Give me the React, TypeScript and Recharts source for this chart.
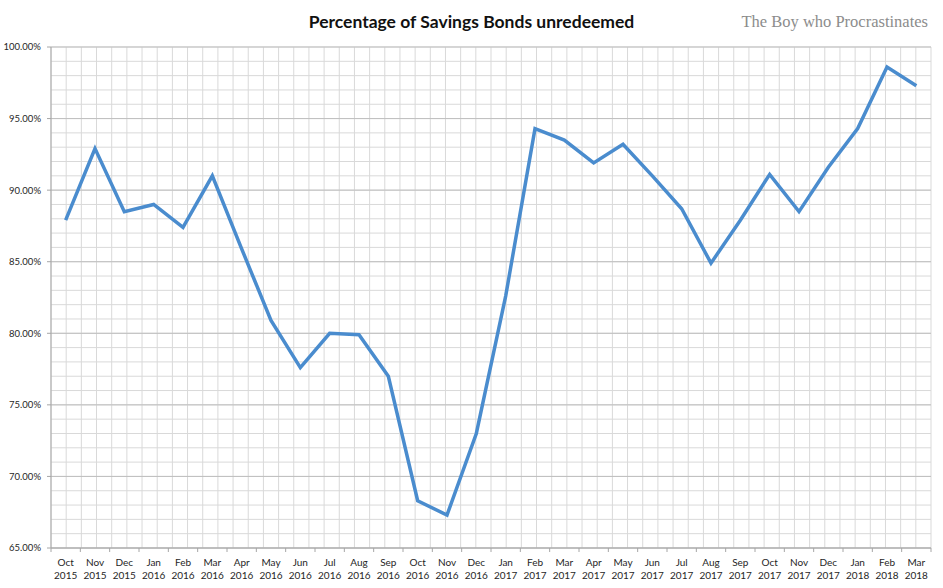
import * as React from 'react';
import { LineChart, Line, XAxis, YAxis, CartesianGrid } from 'recharts';

const MONTHS = [
  'Oct', 'Nov', 'Dec',
  'Jan', 'Feb', 'Mar', 'Apr', 'May', 'Jun', 'Jul', 'Aug', 'Sep', 'Oct', 'Nov', 'Dec',
  'Jan', 'Feb', 'Mar', 'Apr', 'May', 'Jun', 'Jul', 'Aug', 'Sep', 'Oct', 'Nov', 'Dec',
  'Jan', 'Feb', 'Mar',
];
const YEARS = [
  '2015', '2015', '2015',
  '2016', '2016', '2016', '2016', '2016', '2016', '2016', '2016', '2016', '2016', '2016', '2016',
  '2017', '2017', '2017', '2017', '2017', '2017', '2017', '2017', '2017', '2017', '2017', '2017',
  '2018', '2018', '2018',
];
// percent of bonds still unredeemed
const UNREDEEMED = [
  87.9, 92.9, 88.5,
  89.0, 87.4, 91.0, 85.9, 80.9, 77.6, 80.0, 79.9, 77.0, 68.3, 67.3, 73.0,
  82.6, 94.3, 93.5, 91.9, 93.2, 91.0, 88.7, 84.9, 87.9, 91.1, 88.5, 91.6,
  94.3, 98.6, 97.3,
];
const Y_TICKS = [65, 70, 75, 80, 85, 90, 95, 100];
const Y_MINOR = Array.from({ length: 36 }, (_, i) => 65 + i);
const X_HALF_STEPS = Array.from({ length: MONTHS.length * 2 + 1 }, (_, i) => i / 2);

const data = MONTHS.map((m, i) => ({ label: `${m} ${YEARS[i]}`, value: UNREDEEMED[i] }));

const CHART_W = 943;
const CHART_H = 588;
const MARGIN = { top: 47, right: 12, bottom: 0, left: 0 };
const Y_AXIS_W = 51;
const PLOT_W = CHART_W - MARGIN.left - MARGIN.right - Y_AXIS_W;
const HALF_BAND = PLOT_W / MONTHS.length / 2;

const FONT = 'Lato, "Open Sans", sans-serif';
const AXIS_GRAY = '#a6a6a6';

function MonthTick(props: any) {
  const { x, y, payload, index } = props;
  const [m, yr] = String(payload.value).split(' ');
  return (
    <g>
      <line x1={x - HALF_BAND} x2={x - HALF_BAND} y1={y} y2={y + 4} stroke={AXIS_GRAY} />
      {index === MONTHS.length - 1 && (
        <line x1={x + HALF_BAND} x2={x + HALF_BAND} y1={y} y2={y + 4} stroke={AXIS_GRAY} />
      )}
      <text x={x} y={y} textAnchor="middle" fontSize={10} fill="#262626" fontFamily={FONT}>
        <tspan x={x} dy={17.5}>{m}</tspan>
        <tspan x={x} dy={13}>{yr}</tspan>
      </text>
    </g>
  );
}

export default function App() {
  return (
    <div style={{ position: 'absolute', left: 0, top: 0, width: CHART_W, height: CHART_H, background: '#fff' }}>
      <div
        style={{
          position: 'absolute', left: 0, top: 10, width: CHART_W, textAlign: 'center',
          fontFamily: FONT, fontWeight: 700, fontSize: 17.5, lineHeight: '24px', color: '#111',
        }}
      >
        Percentage of Savings Bonds unredeemed
      </div>
      <div
        style={{
          position: 'absolute', right: 15, top: 10, fontFamily: '"Liberation Serif", serif',
          fontSize: 16.5, lineHeight: '24px', color: '#8c8c8c',
        }}
      >
        The Boy who Procrastinates
      </div>
      <LineChart width={CHART_W} height={CHART_H} data={data} margin={MARGIN}>
        <XAxis xAxisId="grid" type="number" domain={[0, MONTHS.length]} interval={0} hide />
        <CartesianGrid
          xAxisId="grid"
          verticalValues={X_HALF_STEPS}
          horizontalValues={Y_MINOR}
          stroke="#d9d9d9"
          strokeWidth={1}
        />
        <CartesianGrid xAxisId="grid" vertical={false} horizontalValues={Y_TICKS} stroke="#bfbfbf" strokeWidth={1} />
        <XAxis
          xAxisId="cat"
          dataKey="label"
          interval={0}
          height={40}
          padding={{ left: HALF_BAND, right: HALF_BAND }}
          tickLine={false}
          tickSize={0}
          tickMargin={0}
          axisLine={{ stroke: AXIS_GRAY }}
          tick={<MonthTick />}
        />
        <YAxis
          domain={[65, 100]}
          ticks={Y_TICKS}
          interval={0}
          width={Y_AXIS_W}
          tickSize={4}
          tickMargin={6}
          tickFormatter={(v: number) => `${v.toFixed(2)}%`}
          tick={{ fontSize: 9.5, fill: '#262626', fontFamily: FONT }}
          axisLine={{ stroke: AXIS_GRAY }}
          tickLine={{ stroke: AXIS_GRAY }}
        />
        <Line
          xAxisId="cat"
          type="linear"
          dataKey="value"
          stroke="#4a8cce"
          strokeWidth={3.5}
          dot={false}
          isAnimationActive={false}
        />
      </LineChart>
    </div>
  );
}
